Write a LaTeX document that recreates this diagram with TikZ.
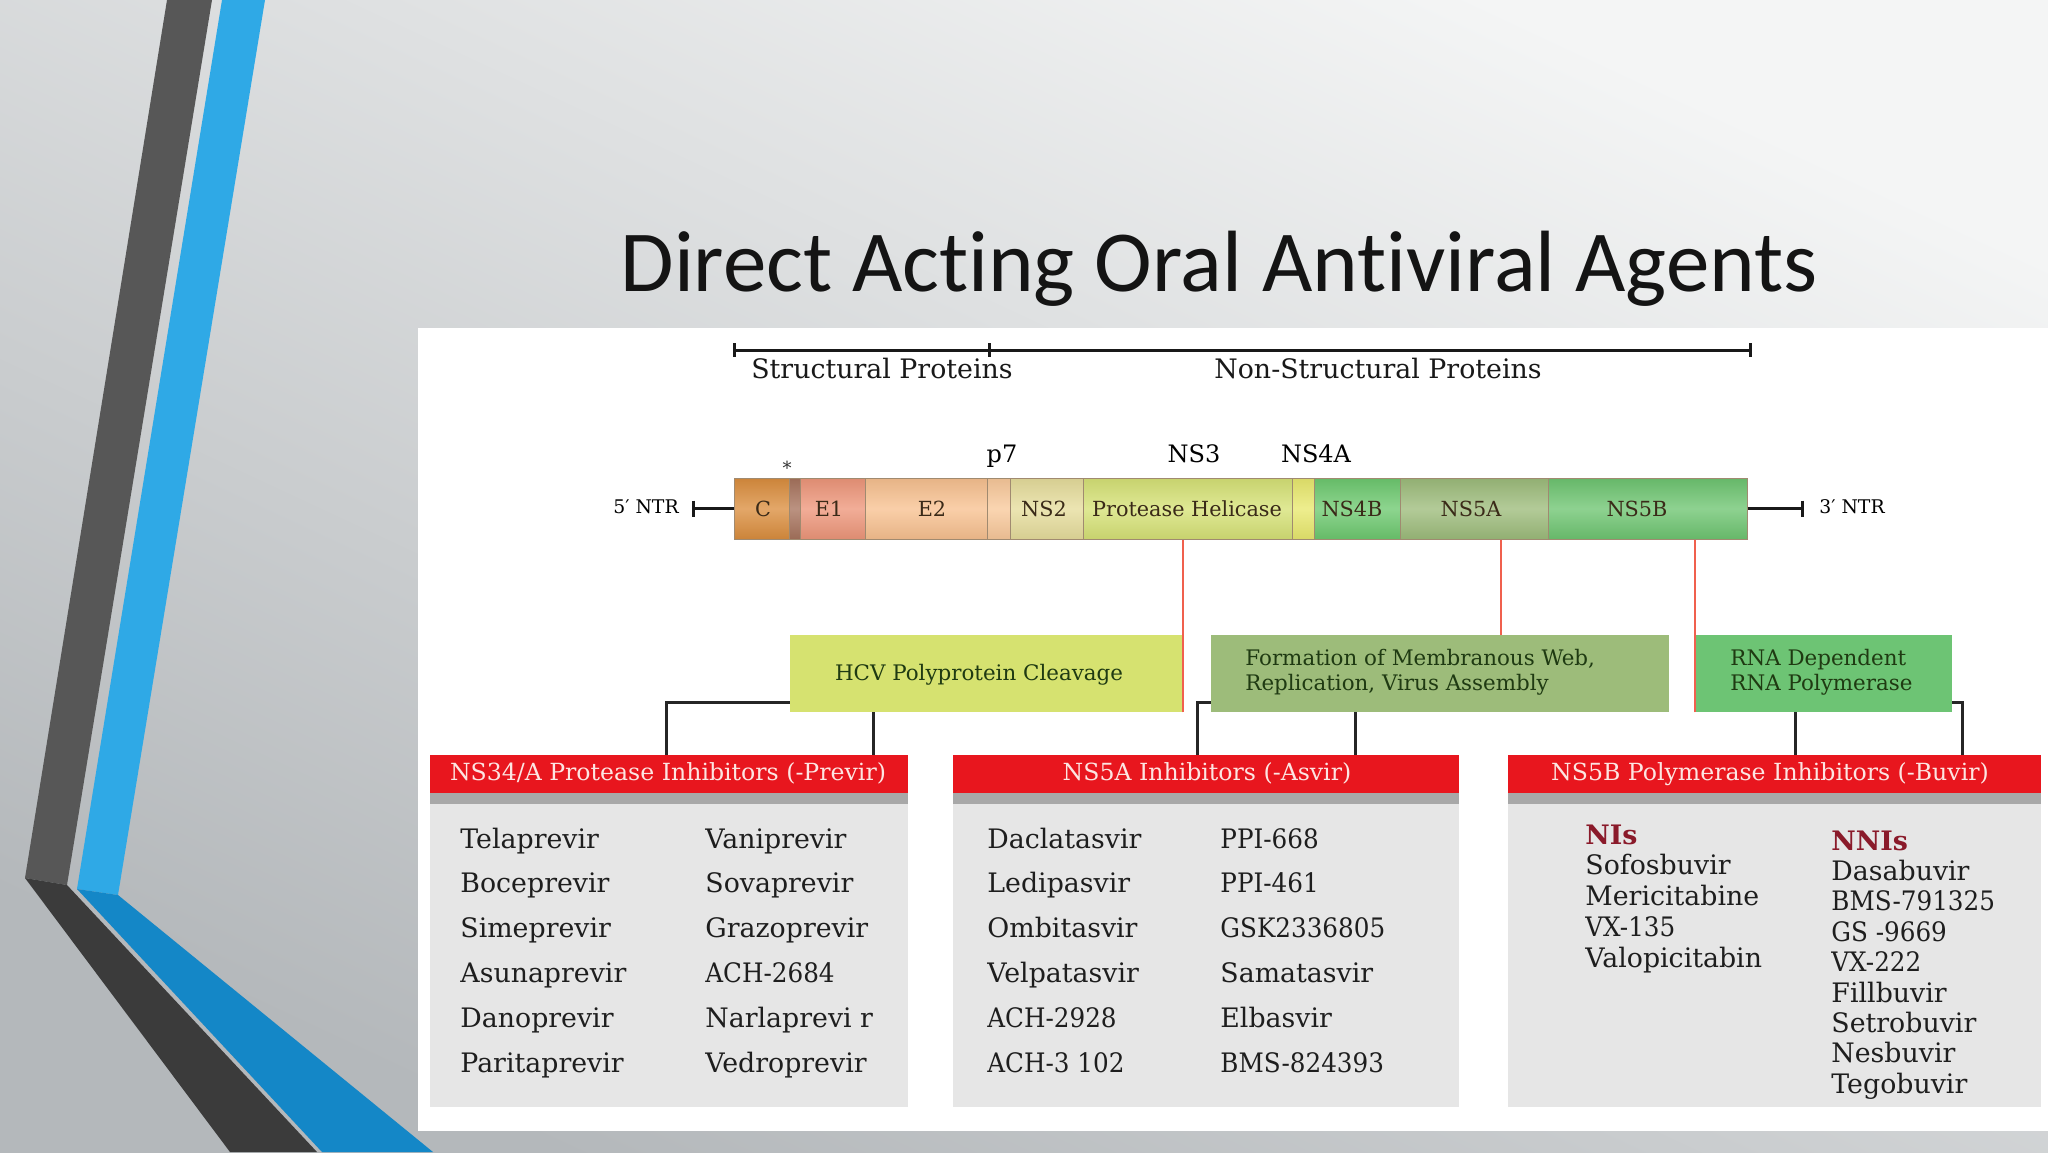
\documentclass[tikz,border=0pt]{standalone}
\usepackage{fontspec}
\setmainfont{DejaVu Serif}
\newfontfamily\titlefont[Ligatures={NoCommon}]{Carlito}
\newfontfamily\numfont[FakeStretch=0.92]{DejaVu Serif}
\usetikzlibrary{fit}
\newcommand\fsz[1]{\fontsize{#1}{#1}\selectfont}
\definecolor{bgtop}{HTML}{F4F5F5}
\definecolor{bgbot}{HTML}{B4B8BB}
\definecolor{darkup}{HTML}{575757}
\definecolor{darklow}{HTML}{3B3B3B}
\definecolor{blueup}{HTML}{2FA9E6}
\definecolor{bluelow}{HTML}{1487C7}
\definecolor{cC}{HTML}{DB8E3E}
\definecolor{cStr}{HTML}{A7735D}
\definecolor{cE1}{HTML}{EE967A}
\definecolor{cE2}{HTML}{F8C190}
\definecolor{cP7}{HTML}{F9C99B}
\definecolor{cNS2}{HTML}{E6DD9C}
\definecolor{cNS3}{HTML}{D6E276}
\definecolor{cNS4A}{HTML}{E9E96E}
\definecolor{cNS4B}{HTML}{6DC96F}
\definecolor{cNS5A}{HTML}{9DBC7B}
\definecolor{cNS5B}{HTML}{6EC571}
\definecolor{hcvfill}{HTML}{D6E270}
\definecolor{formfill}{HTML}{9DBC7A}
\definecolor{rnafill}{HTML}{6DC474}
\definecolor{redhead}{HTML}{E8161E}
\definecolor{headtext}{HTML}{FDE5E2}
\definecolor{stripegrey}{HTML}{A8A8A8}
\definecolor{bodygrey}{HTML}{E6E6E6}
\definecolor{redln}{HTML}{F0604E}
\definecolor{segline}{HTML}{A08A70}
\definecolor{genetext}{HTML}{3A2A18}
\definecolor{boxtext}{HTML}{1F3A12}
\definecolor{nis}{HTML}{8A1A2A}
\definecolor{listtext}{HTML}{1E1E1E}
\begin{document}
\begin{tikzpicture}[x=0.5pt,y=-0.5pt,
  seg/.style={draw=segline,line width=0.5pt,inner sep=0pt},
  segc/.style={seg,top color=#1!93!black,bottom color=#1!93!black,middle color=#1!78!white},
  seglab/.style={anchor=base,inner sep=0pt,font=\fsz{10.4},text=genetext},
  toplab/.style={anchor=base,font=\fsz{12},text=black,inner sep=0pt},
  brlab/.style={anchor=base,font=\fsz{13.4},text=black!90,inner sep=0pt},
  ntrlab/.style={font=\fsz{9.4},text=black,inner sep=0pt},
  brk/.style={line width=1.5pt,black!90},
  fbox/.style={inner sep=0pt},
  btext/.style={anchor=base west,inner sep=0pt,font=\fsz{10.7},text=boxtext},
  redl/.style={line width=1pt,redln},
  conn/.style={line width=1.5pt,black!85},
  body/.style={fill=bodygrey,inner sep=0pt},
  head/.style={fill=redhead,inner sep=0pt},
  headlab/.style={anchor=base,inner sep=0pt,font=\fsz{11.8},text=headtext},
  item/.style={anchor=base west,inner sep=0pt,font=\fsz{13.4},text=listtext},
  numitem/.style={item,font=\numfont\fsz{13.4}},
  nihead/.style={anchor=base west,inner sep=0pt,font=\fsz{13.4}\bfseries,text=nis}]
\useasboundingbox (0,0) rectangle (2048,1152);
% background
\shade[top color=bgtop,bottom color=bgbot,shading angle=-25] (0,0) rectangle (2048,1152);
% left decoration
\fill[darkup] (167,0) -- (212,0) -- (67,885) -- (25,878) -- cycle;
\fill[blueup] (222,0) -- (265,0) -- (118,895) -- (77,889) -- cycle;
\fill[darklow] (25,878) -- (67,885) -- (317,1152) -- (230,1152) -- cycle;
\fill[bluelow] (77,889) -- (118,895) -- (433,1152) -- (322,1152) -- cycle;
% white panel
\fill[white] (418,328) rectangle (2048,1131);
% title
\node[anchor=base,inner sep=0pt,font=\titlefont\fsz{43.5},text=black!92] (title) at (1219,291) {Direct Acting Oral Antiviral Agents};
% bracket
\coordinate (bL) at (734,350);
\coordinate (bM) at (989,350);
\coordinate (bR) at (1750,350);
\draw[brk] (bL) -- (bR);
\foreach \c in {bL,bM,bR} \draw[brk] ([yshift=3.5pt]\c) -- ([yshift=-3.5pt]\c);
\node[brlab] (lstruct) at (882,378) {Structural Proteins};
\node[brlab] (lnon) at (1378,378) {Non-Structural Proteins};
% gene bar
\node[segc=cC, fit={(734,478)(789,539)}] (sC) {};
\node[segc=cStr, fit={(789,478)(800,539)}] (sStar) {};
\node[segc=cE1, fit={(800,478)(865,539)}] (sE1) {};
\node[segc=cE2, fit={(865,478)(987,539)}] (sE2) {};
\node[segc=cP7, fit={(987,478)(1010,539)}] (sP7) {};
\node[segc=cNS2, fit={(1010,478)(1083,539)}] (sNS2) {};
\node[segc=cNS3, fit={(1083,478)(1292,539)}] (sNS3) {};
\node[segc=cNS4A, fit={(1292,478)(1314,539)}] (sNS4A) {};
\node[segc=cNS4B, fit={(1314,478)(1400,539)}] (sNS4B) {};
\node[segc=cNS5A, fit={(1400,478)(1548,539)}] (sNS5A) {};
\node[segc=cNS5B, fit={(1548,478)(1747,539)}] (sNS5B) {};
\node[seglab] (tC) at (763,516) {C};
\node[seglab] (tE1) at (829,516) {E1};
\node[seglab] (tE2) at (932,516) {E2};
\node[seglab] (tNS2) at (1044,516) {NS2};
\node[seglab] (tNS3) at (1187,516) {Protease Helicase};
\node[seglab] (tNS4B) at (1352,516) {NS4B};
\node[seglab] (tNS5A) at (1471,516) {NS5A};
\node[seglab] (tNS5B) at (1637,516) {NS5B};
\node[inner sep=0pt,font=\fsz{9},text=black!80] (lstar) at (787,468) {*};
\node[toplab] (lp7) at (1002,462) {p7};
\node[toplab] (lns3) at (1194,462) {NS3};
\node[toplab] (lns4a) at (1316,462) {NS4A};
% NTR ends
\coordinate (n5) at (693,508.5);
\draw[brk] (n5) -- (sC.west);
\draw[brk] ([yshift=4pt]n5) -- ([yshift=-4pt]n5);
\node[ntrlab] (l5) at (646,507) {5′ NTR};
\coordinate (n3) at (1802,508.5);
\draw[brk] (sNS5B.east) -- (n3);
\draw[brk] ([yshift=4pt]n3) -- ([yshift=-4pt]n3);
\node[ntrlab] (l3) at (1852,507) {3′ NTR};
% function boxes
\node[fbox, fill=hcvfill, fit={(790,635)(1183,712)}] (hcv) {};
\node[btext, anchor=base] (hcvt) at (979,680) {HCV Polyprotein Cleavage};
\node[fbox, fill=formfill, fit={(1211,635)(1669,712)}] (form) {};
\node[btext] (formt1) at (1245,665) {Formation of Membranous Web,};
\node[btext] (formt2) at (1245,690) {Replication, Virus Assembly};
\node[fbox, fill=rnafill, fit={(1695,635)(1952,712)}] (rna) {};
\node[btext] (rnat1) at (1730,665) {RNA Dependent};
\node[btext] (rnat2) at (1730,690) {RNA Polymerase};
% red lines
\coordinate (r2) at (1501,0);
\draw[redl] (hcv.south east) -- (hcv.south east |- sNS3.south);
\draw[redl] (sNS5A.south -| r2) -- (form.north -| r2);
\draw[redl] (rna.south west) -- (rna.south west |- sNS5B.south);
% inhibitor panels
\node[body, fit={(430,755)(908,1107)}] (b1) {};
\node[head, fit={(430,755)(908,793)}] (h1) {};
\fill[stripegrey] (h1.south west) rectangle ([yshift=-5.5pt]h1.south east);
\node[headlab] (h1t) at (668,780) {NS34/A Protease Inhibitors (-Previr)};
\node[body, fit={(953,755)(1459,1107)}] (b2) {};
\node[head, fit={(953,755)(1459,793)}] (h2) {};
\fill[stripegrey] (h2.south west) rectangle ([yshift=-5.5pt]h2.south east);
\node[headlab] (h2t) at (1207,780) {NS5A Inhibitors (-Asvir)};
\node[body, fit={(1508,755)(2041,1107)}] (b3) {};
\node[head, fit={(1508,755)(2041,793)}] (h3) {};
\fill[stripegrey] (h3.south west) rectangle ([yshift=-5.5pt]h3.south east);
\node[headlab] (h3t) at (1770,780) {NS5B Polymerase Inhibitors (-Buvir)};
% connectors
\coordinate (k1) at (666,702);
\coordinate (k2) at (873,0);
\coordinate (k3) at (1197,702);
\coordinate (k4) at (1355,0);
\coordinate (k5) at (1795,0);
\coordinate (k6) at (1962,702);
\draw[conn] (hcv.west |- k1) -| (h1.north -| k1);
\draw[conn] (hcv.south -| k2) -- (h1.north -| k2);
\draw[conn] (form.west |- k3) -| (h2.north -| k3);
\draw[conn] (form.south -| k4) -- (h2.north -| k4);
\draw[conn] (rna.south -| k5) -- (h3.north -| k5);
\draw[conn] (rna.east |- k6) -| (h3.north -| k6);
% lists
\foreach \t [count=\i] in {Telaprevir,Boceprevir,Simeprevir,Asunaprevir,Danoprevir,Paritaprevir}
  \node[item] (pa\i) at (460,{848+44.8*(\i-1)}) {\t};
\foreach \t/\s [count=\i] in {Vaniprevir/item,Sovaprevir/item,Grazoprevir/item,ACH-2684/numitem,Narlaprevi r/item,Vedroprevir/item}
  \node[\s] (pb\i) at (705,{848+44.8*(\i-1)}) {\t};
\foreach \t/\s [count=\i] in {Daclatasvir/item,Ledipasvir/item,Ombitasvir/item,Velpatasvir/item,ACH-2928/numitem,ACH-3 102/numitem}
  \node[\s] (aa\i) at (987,{848+44.8*(\i-1)}) {\t};
\foreach \t/\s [count=\i] in {PPI-668/numitem,PPI-461/numitem,GSK2336805/numitem,Samatasvir/item,Elbasvir/item,BMS-824393/numitem}
  \node[\s] (ab\i) at (1220,{848+44.8*(\i-1)}) {\t};
\node[nihead] (nih) at (1585,844) {NIs};
\foreach \t/\s [count=\i] in {Sofosbuvir/item,Mericitabine/item,VX-135/numitem,Valopicitabin/item}
  \node[\s] (ba\i) at (1585,{844+30.8*\i}) {\t};
\node[nihead] (nnih) at (1831,850) {NNIs};
\foreach \t/\s [count=\i] in {Dasabuvir/item,BMS-791325/numitem,GS -9669/numitem,VX-222/numitem,Fillbuvir/item,Setrobuvir/item,Nesbuvir/item,Tegobuvir/item}
  \node[\s] (bb\i) at (1831,{850+30.4*\i}) {\t};
\end{tikzpicture}
\end{document}
